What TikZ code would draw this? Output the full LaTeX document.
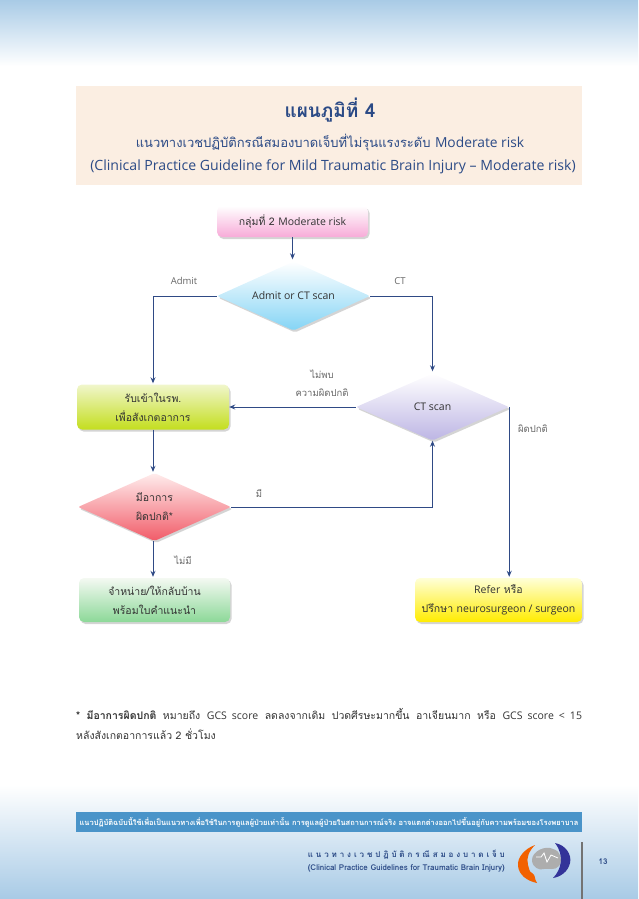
\documentclass[tikz,border=0pt]{standalone}
\usepackage{fontspec}
\setmainfont[Script=Thai]{Loma}
\newfontfamily\lat{Open Sans}
\usetikzlibrary{shapes.geometric,shadows,arrows.meta,calc}
\definecolor{linecol}{HTML}{2F4A85}
\definecolor{titlecol}{HTML}{2B4A86}
\definecolor{txtcol}{HTML}{333333}
\definecolor{labcol}{HTML}{666666}
\definecolor{bandcol}{HTML}{A9CBE6}
\definecolor{barcol}{HTML}{4A94C9}
\definecolor{headcol}{HTML}{FBEEE2}
\definecolor{pinkb}{HTML}{F7ABD8}
\definecolor{cyanb}{HTML}{84D4F5}
\definecolor{lavb}{HTML}{BDB5E4}
\definecolor{limet}{HTML}{F0F6CC}
\definecolor{limeb}{HTML}{C4DE1E}
\definecolor{redt}{HTML}{FFEDED}
\definecolor{redb}{HTML}{F15B68}
\definecolor{greent}{HTML}{F4F9F2}
\definecolor{greenb}{HTML}{8CD898}
\definecolor{yellt}{HTML}{FFFFD8}
\definecolor{yellb}{HTML}{FFEC00}
\tikzset{
  x=1pt,y=-1pt,
  flowbase/.style={inner sep=0pt,align=center,text=txtcol,font=\fontsize{10.5}{19}\selectfont,
    drop shadow={shadow xshift=1.5pt,shadow yshift=-2pt,opacity=.28,fill=black!60}},
  flowbox/.style={flowbase,rectangle,rounded corners=5pt},
  flowdia/.style={flowbase,diamond,aspect=2.2,rounded corners=2pt,minimum width=153pt},
  conn/.style={draw=linecol,line width=1pt,-{Stealth[length=6pt,width=5pt]}},
  lab/.style={inner sep=0pt,align=center,text=labcol,font=\fontsize{9.5}{18}\selectfont},
}
\begin{document}
\begin{tikzpicture}
\useasboundingbox (0,0) rectangle (638,899);
\shade[top color=bandcol,bottom color=white] (0,0) rectangle (638,66);
\shade[top color=white,bottom color=bandcol] (0,785) rectangle (638,898);
\fill[headcol] (76,86) rectangle (582,185);
\node[inner sep=0pt,text=titlecol,font=\fontsize{19}{22}\bfseries\selectfont] (title) at (330,110) {แผนภูมิที่ 4};
\node[inner sep=0pt,text=titlecol,font=\fontsize{13}{18}\selectfont] (sub1) at (330,143) {แนวทางเวชปฏิบัติกรณีสมองบาดเจ็บที่ไม่รุนแรงระดับ {\lat\fontsize{13.8}{18}\selectfont Moderate risk}};
\node[inner sep=0pt,text=titlecol,font=\lat\fontsize{14.1}{18}\selectfont] (sub2) at (333,167) {(Clinical Practice Guideline for Mild Traumatic Brain Injury – Moderate risk)};

\node[flowbox,top color=white,bottom color=pinkb,minimum width=151pt,minimum height=31pt] (start) at (292.5,221.5) {กลุ่มที่ 2 {\lat Moderate risk}};
\node[flowdia,top color=white,bottom color=cyanb,minimum height=69pt] (admit) at (293.5,296) {{\lat Admit or CT scan}};
\node[flowdia,top color=white,bottom color=lavb,minimum height=67pt] (ct) at (432.5,407) {{\lat CT scan}};
\node[flowbox,top color=limet,bottom color=limeb,minimum width=152pt,minimum height=45pt] (ward) at (153,407) {รับเข้าในรพ.\\เพื่อสังเกตอาการ};
\node[flowdia,top color=redt,bottom color=redb,minimum height=68pt] (sym) at (154.5,507) {มีอาการ\\ผิดปกติ*};
\node[flowbox,top color=greent,bottom color=greenb,minimum width=151pt,minimum height=44pt] (home) at (154.5,600) {จำหน่าย/ให้กลับบ้าน\\พร้อมใบคำแนะนำ};
\node[flowbox,top color=yellt,bottom color=yellb,minimum width=167pt,minimum height=44pt] (refer) at (498.5,600) {{\lat Refer} หรือ\\ปรึกษา {\lat neurosurgeon / surgeon}};

\draw[conn] (start.south) -- ($(start.south |- admit.north)+(0,-2)$);
\draw[conn] (admit.west) -| ($(ward.north)+(0,-1)$);
\draw[conn] (admit.east) -| ($(ct.north)+(0,-2)$);
\draw[conn] (ct.west) -- (ward.east);
\draw[conn] (ward.south) -- ($(ward.south |- sym.north)+(0,-1)$);
\draw[conn] (ward.south |- sym.south) -- ($(ward.south |- home.north)+(0,-1)$);
\draw[conn] (sym.east) -| (ct.south);
\draw[conn] (ct.east) -- ($(ct.east |- refer.north)+(0,-1)$);

\node[lab] (l1) at (184,281) {{\lat Admit}};
\node[lab] (l2) at (400,281) {{\lat CT}};
\node[lab] (l3) at (322,383.5) {ไม่พบ\\ความผิดปกติ};
\node[lab] (l4) at (533,429) {ผิดปกติ};
\node[lab] (l5) at (259,493) {มี};
\node[lab] (l6) at (183,560) {ไม่มี};

\node[inner sep=0pt,text=txtcol,font=\fontsize{10.5}{18}\selectfont] (note1) at (329,714) {\makebox[506pt][s]{\textbf{* มีอาการผิดปกติ} หมายถึง {\lat GCS score} ลดลงจากเดิม ปวดศีรษะมากขึ้น อาเจียนมาก หรือ {\lat GCS score < 15}}};
\node[inner sep=0pt,anchor=west,text=txtcol,font=\fontsize{10.5}{18}\selectfont] (note2) at (76,734) {หลังสังเกตอาการแล้ว 2 ชั่วโมง};

\fill[barcol] (76,812) rectangle (582,832);
\node[inner sep=0pt,text=white,font=\fontsize{7.5}{9}\bfseries\selectfont] (bar) at (329,822) {แนวปฏิบัติฉบับนี้ใช้เพื่อเป็นแนวทางเพื่อใช้ในการดูแลผู้ป่วยเท่านั้น การดูแลผู้ป่วยในสถานการณ์จริง อาจแตกต่างออกไปขึ้นอยู่กับความพร้อมของโรงพยาบาล};
\node[inner sep=0pt,anchor=east,text=titlecol,font=\fontsize{8}{9}\bfseries\selectfont\addfontfeature{LetterSpace=36}] (foot1) at (505,855) {แนวทางเวชปฏิบัติกรณีสมองบาดเจ็บ};
\node[inner sep=0pt,anchor=east,text=titlecol,font=\fontsize{8}{9}\bfseries\selectfont] (foot2) at (505,868) {(Clinical Practice Guidelines for Traumatic Brain Injury)};
\node[inner sep=0pt,text=titlecol,font=\fontsize{8}{9}\bfseries\selectfont] (pg) at (603,862) {13};
\draw[line width=1.3pt,draw=black!55] (582,842) -- (582,899);

% logo
\fill[black!32] (532,860) .. controls (532,851) and (546,845) .. (553,849) .. controls (561,851) and (563,860) .. (559,866) .. controls (555,871) and (549,868) .. (544,869) .. controls (539,871) and (532,867) .. (532,860) -- cycle;
\draw[white,line width=0.8pt] (536,857) -- (541,857) -- (544,853) -- (547,862) -- (551,855) -- (558,858);
\fill[orange!80!red!95!black] (535,845) .. controls (524,849) and (517,858) .. (518,866) .. controls (519,875) and (527,881) .. (537,883) .. controls (534,879) and (536,875) .. (532,873) .. controls (528,871) and (530,868) .. (528,865) .. controls (526,858) and (529,851) .. (535,845) -- cycle;
\fill[blue!50!black!80] (555,843) .. controls (566,845) and (572,855) .. (570,863) .. controls (568,872) and (560,877) .. (553,878) .. controls (561,870) and (565,856) .. (555,843) -- cycle;
\end{tikzpicture}
\end{document}
